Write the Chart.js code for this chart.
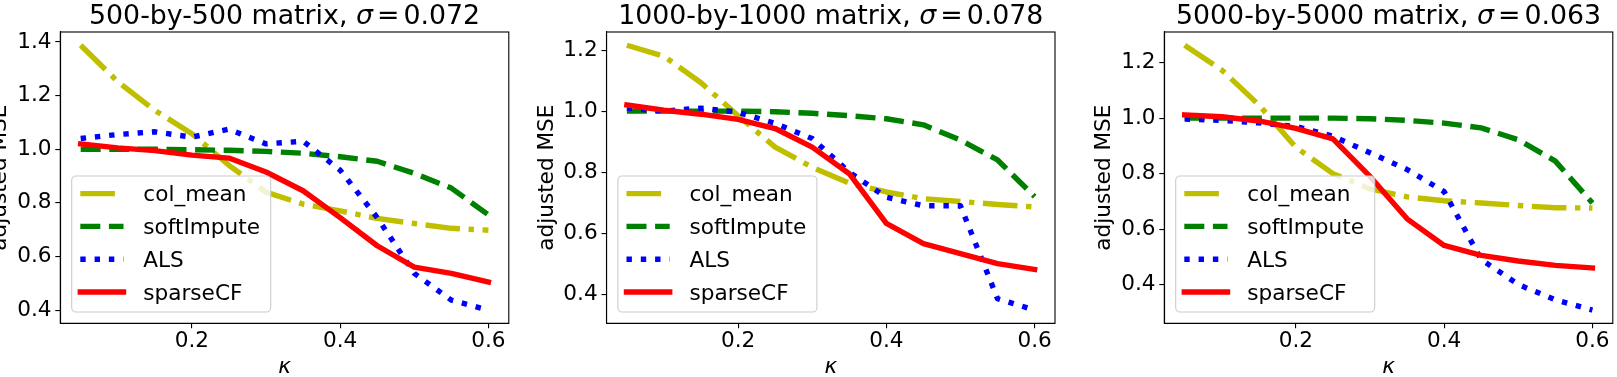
<!DOCTYPE html>
<html><head><meta charset="utf-8">
<script src="https://cdn.jsdelivr.net/npm/chart.js@4.4.1/dist/chart.umd.min.js"></script>
<style>
html,body{margin:0;padding:0;width:1617px;height:377px;overflow:hidden;background:#fff;}
canvas{position:absolute;top:0;}
</style></head><body>
<canvas id="c0"></canvas><canvas id="c1"></canvas><canvas id="c2"></canvas>
<script>
// ---------------- data ----------------
const kappa = [0.05, 0.10, 0.15, 0.20, 0.25, 0.30, 0.35, 0.40, 0.45, 0.50, 0.55, 0.60];
const seriesNames = ['col_mean', 'softImpute', 'ALS', 'sparseCF'];
const matrixSizes = ['500-by-500', '1000-by-1000', '5000-by-5000'];
const sigmaValues = ['0.072', '0.078', '0.063'];
const xTicks = [0.2, 0.4, 0.6];
const xTickLabels = ['0.2', '0.4', '0.6'];
const yTicks500 = [0.4, 0.6, 0.8, 1.0, 1.2, 1.4];
const yTickLabels500 = ['0.4', '0.6', '0.8', '1.0', '1.2', '1.4'];
const yTicks1000 = [0.4, 0.6, 0.8, 1.0, 1.2];
const yTickLabels1000 = ['0.4', '0.6', '0.8', '1.0', '1.2'];
const yTicks5000 = [0.4, 0.6, 0.8, 1.0, 1.2];
const yTickLabels5000 = ['0.4', '0.6', '0.8', '1.0', '1.2'];
const yAxisTitle = 'adjusted MSE';
const xAxisTitle = 'κ';

const colMean500   = [1.388, 1.252, 1.145, 1.058, 0.940, 0.840, 0.795, 0.770, 0.742, 0.723, 0.705, 0.698];
const softImpute500= [1.000, 1.000, 1.000, 0.998, 0.996, 0.992, 0.985, 0.972, 0.955, 0.910, 0.855, 0.755];
const als500       = [1.040, 1.055, 1.065, 1.045, 1.075, 1.020, 1.030, 0.922, 0.745, 0.537, 0.437, 0.400];
const sparseCF500  = [1.020, 1.005, 0.995, 0.978, 0.967, 0.915, 0.845, 0.745, 0.640, 0.560, 0.537, 0.505];

const colMean1000   = [1.216, 1.180, 1.093, 0.985, 0.882, 0.816, 0.764, 0.735, 0.713, 0.704, 0.694, 0.686];
const softImpute1000= [1.000, 1.000, 1.000, 1.000, 0.998, 0.993, 0.985, 0.975, 0.955, 0.905, 0.840, 0.720];
const als1000       = [1.010, 1.000, 1.010, 0.996, 0.960, 0.910, 0.800, 0.718, 0.690, 0.690, 0.385, 0.348];
const sparseCF1000  = [1.020, 1.003, 0.990, 0.973, 0.943, 0.882, 0.795, 0.632, 0.566, 0.533, 0.500, 0.481];

const colMean5000   = [1.263, 1.174, 1.048, 0.895, 0.800, 0.745, 0.716, 0.702, 0.694, 0.685, 0.677, 0.676];
const softImpute5000= [1.000, 1.000, 1.000, 1.000, 1.000, 0.998, 0.992, 0.982, 0.965, 0.922, 0.845, 0.694];
const als5000       = [0.997, 0.992, 0.983, 0.970, 0.935, 0.875, 0.815, 0.735, 0.490, 0.400, 0.345, 0.308];
const sparseCF5000  = [1.012, 1.005, 0.990, 0.963, 0.925, 0.790, 0.637, 0.541, 0.505, 0.485, 0.469, 0.460];

// ---------------- styles / layout ----------------
const FONT = '"DejaVu Sans", "Liberation Sans", sans-serif';
const FS = 21.6, TITLE_FS = 26.8;
const LW = 5.4;
const lineStyles = [
  {color: '#bfbf00', dash: [34.6, 8.6, 5.4, 8.6], cap: 'butt'},
  {color: '#008000', dash: [20, 8.6], cap: 'butt'},
  {color: '#0000ff', dash: [5.4, 8.9], cap: 'butt'},
  {color: '#ff0000', dash: [], cap: 'square'}
];
const AREA_TOP = 32, AREA_BOTTOM = 323.3, AREA_W = 448.5;
const areaLefts = [60.3, 606.5, 1164.3];
const Y_W = 72.5;

const panels = [
  {series: [colMean500, softImpute500, als500, sparseCF500], yTicks: yTicks500, yLabels: yTickLabels500},
  {series: [colMean1000, softImpute1000, als1000, sparseCF1000], yTicks: yTicks1000, yLabels: yTickLabels1000},
  {series: [colMean5000, softImpute5000, als5000, sparseCF5000], yTicks: yTicks5000, yLabels: yTickLabels5000}
];

const decorPlugin = {
  id: 'mplDecor',
  afterDraw(chart, args, opts) {
    const ctx = chart.ctx, a = chart.chartArea;
    ctx.save();
    // spines
    ctx.strokeStyle = '#000'; ctx.lineWidth = 1.1; ctx.setLineDash([]);
    ctx.strokeRect(a.left, a.top, a.right - a.left, a.bottom - a.top);
    // legend
    const bx = a.left + 11.4, bw = 199, bh = 136, by = a.bottom - 11.3 - bh, r = 4.3;
    ctx.beginPath();
    ctx.moveTo(bx + r, by); ctx.lineTo(bx + bw - r, by); ctx.arcTo(bx + bw, by, bx + bw, by + r, r);
    ctx.lineTo(bx + bw, by + bh - r); ctx.arcTo(bx + bw, by + bh, bx + bw - r, by + bh, r);
    ctx.lineTo(bx + r, by + bh); ctx.arcTo(bx, by + bh, bx, by + bh - r, r);
    ctx.lineTo(bx, by + r); ctx.arcTo(bx, by, bx + r, by, r); ctx.closePath();
    ctx.fillStyle = 'rgba(255,255,255,0.8)'; ctx.fill();
    ctx.strokeStyle = '#cccccc'; ctx.lineWidth = 1.1; ctx.stroke();
    chart.data.datasets.forEach((ds, i) => {
      const ry = by + 17.6 + i * 32.8;
      ctx.beginPath();
      ctx.setLineDash(ds.borderDash || []);
      ctx.lineDashOffset = 0;
      ctx.lineCap = ds.borderCapStyle; ctx.lineWidth = ds.borderWidth; ctx.strokeStyle = ds.borderColor;
      ctx.moveTo(bx + 8.6, ry); ctx.lineTo(bx + 8.6 + 43.2, ry); ctx.stroke();
      ctx.setLineDash([]);
      ctx.fillStyle = '#000'; ctx.font = FS + 'px ' + FONT; ctx.textBaseline = 'alphabetic'; ctx.textAlign = 'left';
      ctx.fillText(ds.label, bx + 71.6, ry + 7.7);
    });
    // title: "<size> matrix, σ = <value>"
    const parts = [
      {t: opts.size + ' matrix, ', f: TITLE_FS + 'px ' + FONT, sp: 0},
      {t: 'σ', f: 'italic ' + TITLE_FS + 'px ' + FONT, sp: 0},
      {t: '=', f: TITLE_FS + 'px ' + FONT, sp: 0.15 * TITLE_FS},
      {t: opts.sigma, f: TITLE_FS + 'px ' + FONT, sp: 0}
    ];
    let total = 0;
    parts.forEach(p => { ctx.font = p.f; p.w = ctx.measureText(p.t).width; total += p.w + 2 * p.sp; });
    let x = (a.left + a.right) / 2 - total / 2;
    ctx.fillStyle = '#000'; ctx.textBaseline = 'alphabetic'; ctx.textAlign = 'left';
    parts.forEach(p => { ctx.font = p.f; x += p.sp; ctx.fillText(p.t, x, 23.5); x += p.w + p.sp; });
    ctx.restore();
  }
};

panels.forEach((p, i) => {
  const canvas = document.getElementById('c' + i);
  const aL = areaLefts[i];
  const cL = Math.floor(aL - Y_W - 6);
  const padL = aL - Y_W - cL;
  const cW = Math.ceil(aL + AREA_W + 8 - cL);
  const padR = cL + cW - (aL + AREA_W);
  canvas.width = cW; canvas.height = 377;
  canvas.style.left = cL + 'px'; canvas.style.width = cW + 'px'; canvas.style.height = '377px';

  const all = p.series.flat();
  const dMin = Math.min(...all), dMax = Math.max(...all);
  const m = 0.05 * (dMax - dMin);
  const xm = 0.05 * (kappa[kappa.length - 1] - kappa[0]);

  const datasets = p.series.map((vals, k) => ({
    label: seriesNames[k],
    data: kappa.map((x, j) => ({x: x, y: vals[j]})),
    borderColor: lineStyles[k].color,
    backgroundColor: lineStyles[k].color,
    borderWidth: LW,
    borderDash: lineStyles[k].dash,
    borderCapStyle: lineStyles[k].cap,
    borderJoinStyle: 'round',
    pointRadius: 0,
    tension: 0,
    fill: false,
    order: 3 - k
  }));

  new Chart(canvas, {
    type: 'line',
    data: {datasets},
    plugins: [decorPlugin],
    options: {
      responsive: false, animation: false, devicePixelRatio: 1, events: [],
      layout: {padding: {left: padL, right: padR, top: AREA_TOP, bottom: 0}},
      plugins: {legend: {display: false}, tooltip: {enabled: false}, title: {display: false},
                mplDecor: {size: matrixSizes[i], sigma: sigmaValues[i]}},
      scales: {
        x: {
          type: 'linear', min: kappa[0] - xm, max: kappa[kappa.length - 1] + xm, bounds: 'data',
          afterBuildTicks: s => { s.ticks = xTicks.map(v => ({value: v})); },
          afterFit: s => { s.height = 377 - AREA_BOTTOM; },
          ticks: {autoSkip: false, maxRotation: 0, padding: 0, color: '#000',
                  font: {family: FONT, size: FS},
                  callback: (v, idx) => xTickLabels[idx]},
          grid: {drawOnChartArea: false, drawTicks: true, tickLength: 5, color: '#000', lineWidth: 1.1},
          border: {display: true, color: '#000', width: 1.1},
          title: {display: true, text: xAxisTitle, color: '#000', padding: 0,
                  font: {family: FONT, size: FS, style: 'italic', lineHeight: 0.9}}
        },
        y: {
          type: 'linear', min: dMin - m, max: dMax + m, bounds: 'data',
          afterBuildTicks: s => { s.ticks = p.yTicks.map(v => ({value: v})); },
          afterFit: s => { s.width = Y_W; },
          ticks: {autoSkip: false, padding: 3.8, color: '#000',
                  font: {family: FONT, size: FS},
                  callback: (v, idx) => p.yLabels[idx]},
          grid: {drawOnChartArea: false, drawTicks: true, tickLength: 5, color: '#000', lineWidth: 1.1},
          border: {display: true, color: '#000', width: 1.1},
          title: {display: true, text: yAxisTitle, color: '#000', padding: 0,
                  font: {family: FONT, size: FS, lineHeight: 1.2}}
        }
      }
    }
  });
});
</script>
</body></html>
